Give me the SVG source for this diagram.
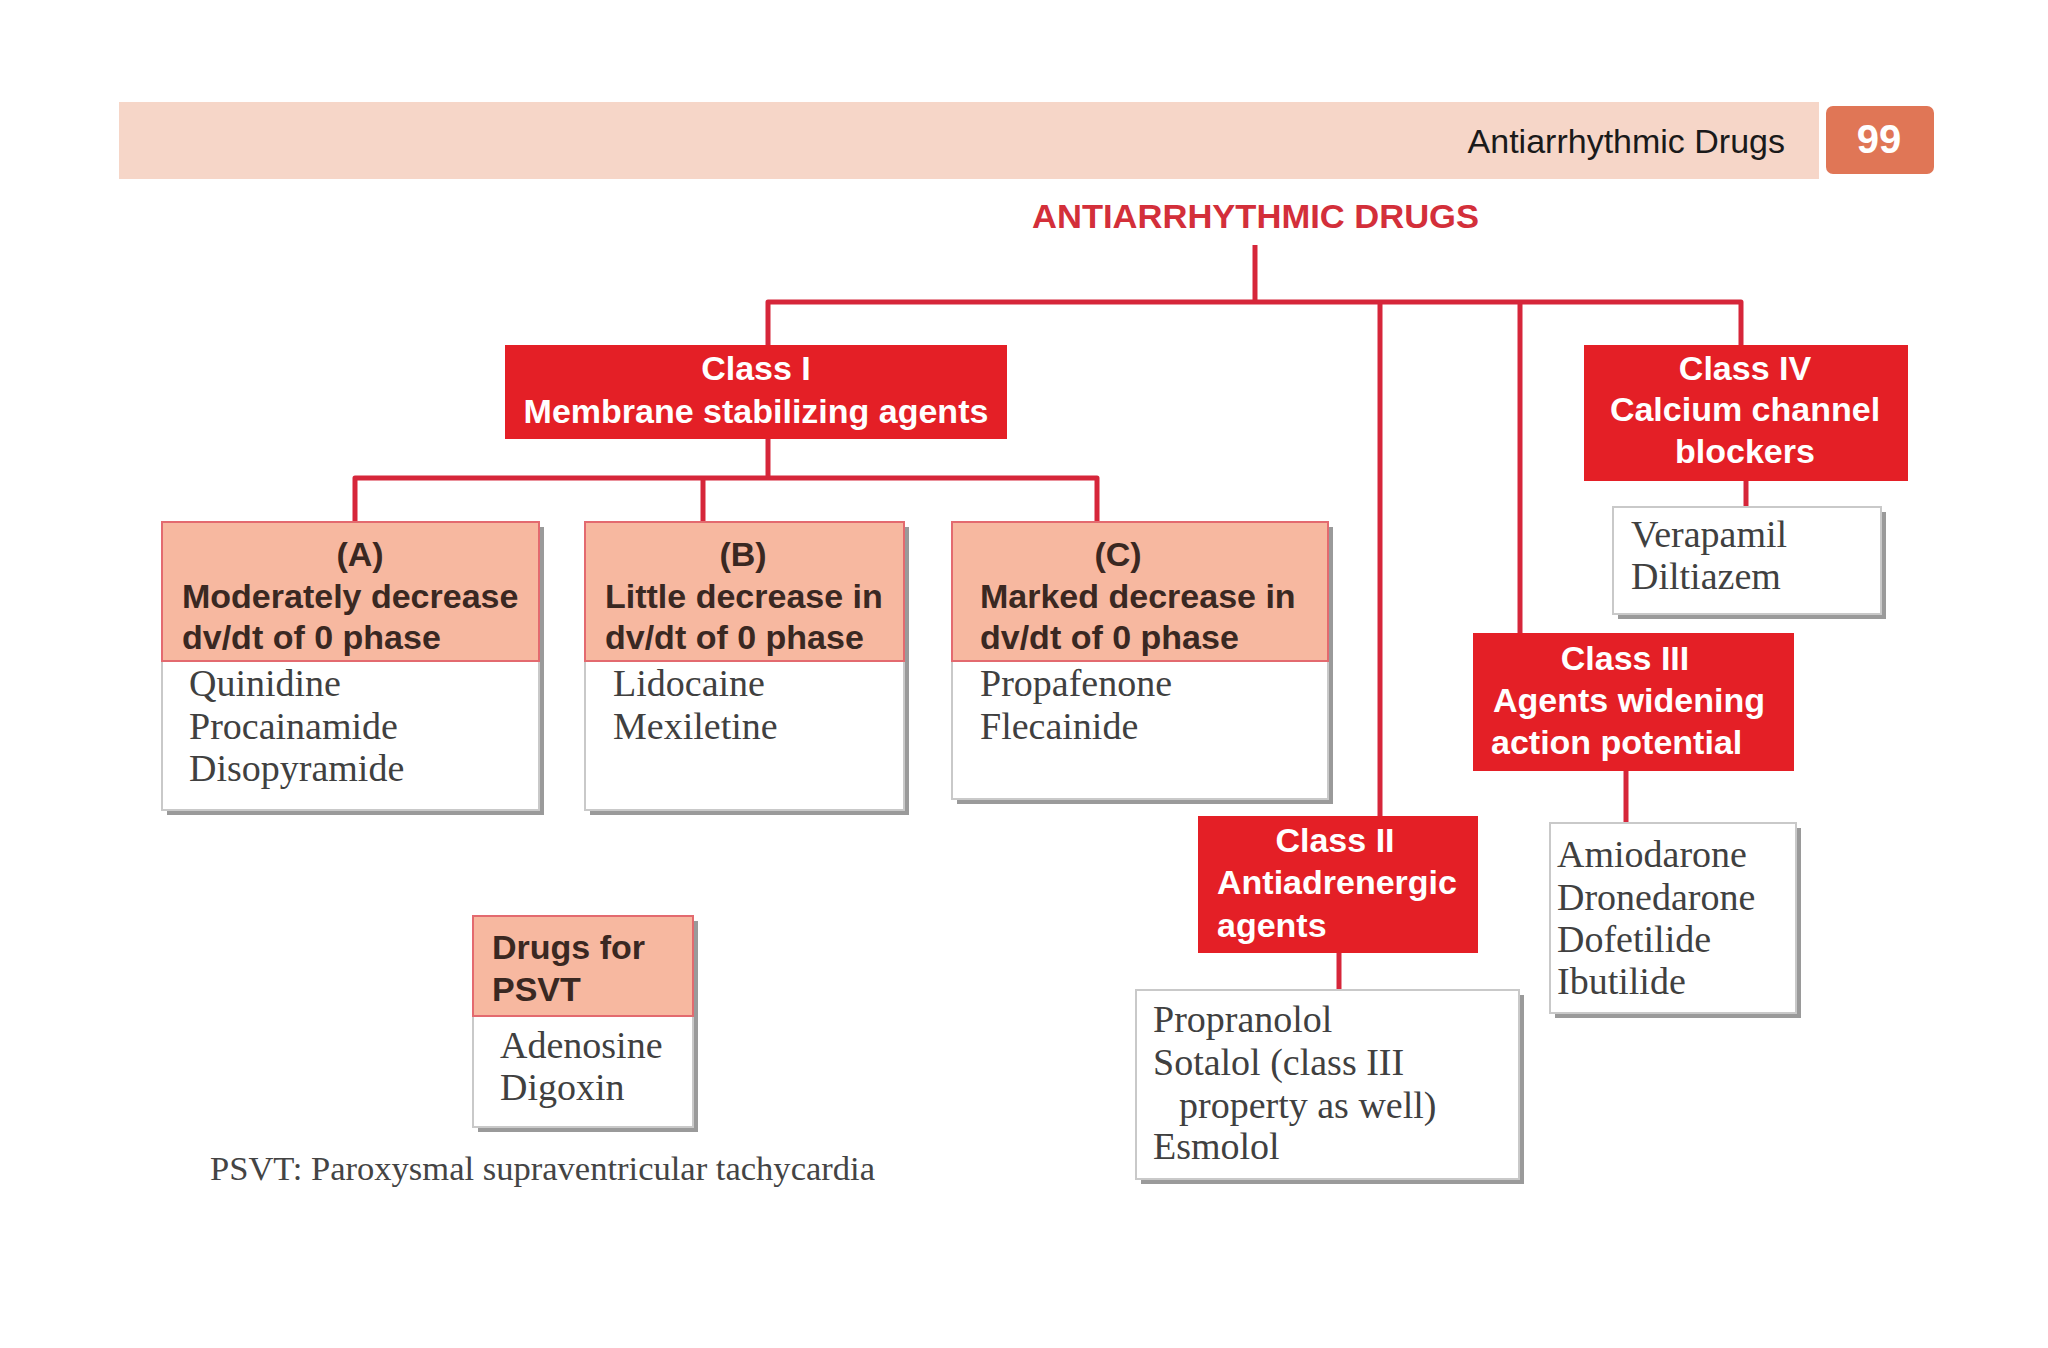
<svg xmlns="http://www.w3.org/2000/svg" width="2048" height="1348" viewBox="0 0 2048 1348">
<style>
.bg{fill:#ffffff}
.band{fill:#f6d6c8}
.pg{fill:#e07656}
.red{fill:#e41f26}
.pink{fill:#f7b8a0;stroke:#e36a6f;stroke-width:2}
.white{fill:#ffffff;stroke:#c9c9c9;stroke-width:2}
.shadow{fill:#9a9a9a}
.conn{fill:none;stroke:#d6263a;stroke-width:5;stroke-linejoin:round;stroke-linecap:butt}
.hw{font-family:"Liberation Sans",Arial,sans-serif;font-weight:bold;font-size:34px;fill:#ffffff}
.hd{font-family:"Liberation Sans",Arial,sans-serif;font-weight:bold;font-size:34px;fill:#3a2822}
.drug{font-family:"Liberation Serif","Times New Roman",serif;font-size:38px;fill:#404040}
.title{font-family:"Liberation Sans",Arial,sans-serif;font-weight:bold;font-size:34px;fill:#d32f3a}
.mid{text-anchor:middle}
</style>
<rect class="bg" x="0" y="0" width="2048" height="1348"/>

<g id="header">
<rect class="band" x="119" y="102" width="1700" height="77"/>
<rect x="1820" y="101" width="120" height="79" rx="8" fill="#ffffff"/>
<rect class="pg" x="1826" y="106" width="108" height="68" rx="7"/>
<text x="1785" y="153" text-anchor="end" font-family="'Liberation Sans',Arial,sans-serif" font-size="34" fill="#1a1a1a">Antiarrhythmic Drugs</text>
<text x="1879" y="153" text-anchor="middle" font-family="'Liberation Sans',Arial,sans-serif" font-weight="bold" font-size="40" fill="#ffffff">99</text>
</g>

<g id="connectors">
<path class="conn" d="M1255 245 V302"/>
<path class="conn" d="M768 345 V302 H1741 V345"/>
<path class="conn" d="M1380 302 V816"/>
<path class="conn" d="M1520 302 V634"/>
<path class="conn" d="M1746 481 V507"/>
<path class="conn" d="M1626 771 V823"/>
<path class="conn" d="M1339 953 V990"/>
<path class="conn" d="M768 439 V478"/>
<path class="conn" d="M355 522 V478 H1097 V522"/>
<path class="conn" d="M703 478 V522"/>
</g>

<g id="title">
<text class="title" x="1032" y="228" textLength="447" lengthAdjust="spacingAndGlyphs">ANTIARRHYTHMIC DRUGS</text>
</g>

<g id="class1">
<rect class="red" x="505" y="345" width="502" height="94"/>
<text class="hw mid" x="756" y="380">Class I</text>
<text class="hw mid" x="756" y="423">Membrane stabilizing agents</text>
</g>

<g id="class1a">
<rect class="shadow" x="167" y="527" width="377" height="288"/>
<rect class="white" x="162" y="522" width="377" height="288"/>
<rect class="pink" x="162" y="522" width="377" height="139"/>
<text class="hd mid" x="360" y="566">(A)</text>
<text class="hd" x="182" y="608">Moderately decrease</text>
<text class="hd" x="182" y="649">dv/dt of 0 phase</text>
<text class="drug" x="189" y="696">Quinidine</text>
<text class="drug" x="189" y="739">Procainamide</text>
<text class="drug" x="189" y="781">Disopyramide</text>
</g>

<g id="class1b">
<rect class="shadow" x="590" y="527" width="319" height="288"/>
<rect class="white" x="585" y="522" width="319" height="288"/>
<rect class="pink" x="585" y="522" width="319" height="139"/>
<text class="hd mid" x="743" y="566">(B)</text>
<text class="hd" x="605" y="608">Little decrease in</text>
<text class="hd" x="605" y="649">dv/dt of 0 phase</text>
<text class="drug" x="613" y="696">Lidocaine</text>
<text class="drug" x="613" y="739">Mexiletine</text>
</g>

<g id="class1c">
<rect class="shadow" x="957" y="527" width="376" height="277"/>
<rect class="white" x="952" y="522" width="376" height="277"/>
<rect class="pink" x="952" y="522" width="376" height="139"/>
<text class="hd mid" x="1118" y="566">(C)</text>
<text class="hd" x="980" y="608">Marked decrease in</text>
<text class="hd" x="980" y="649">dv/dt of 0 phase</text>
<text class="drug" x="980" y="696">Propafenone</text>
<text class="drug" x="980" y="739">Flecainide</text>
</g>

<g id="class4">
<rect class="red" x="1584" y="345" width="324" height="136"/>
<text class="hw mid" x="1745" y="380">Class IV</text>
<text class="hw mid" x="1745" y="421">Calcium channel</text>
<text class="hw mid" x="1745" y="463">blockers</text>
</g>

<g id="class4drugs">
<rect class="shadow" x="1618" y="512" width="268" height="107"/>
<rect class="white" x="1613" y="507" width="268" height="107"/>
<text class="drug" x="1631" y="547">Verapamil</text>
<text class="drug" x="1631" y="589">Diltiazem</text>
</g>

<g id="class3">
<rect class="red" x="1473" y="633" width="321" height="138"/>
<text class="hw mid" x="1625" y="670">Class III</text>
<text class="hw" x="1493" y="712">Agents widening</text>
<text class="hw" x="1491" y="754">action potential</text>
</g>

<g id="class3drugs">
<rect class="shadow" x="1555" y="828" width="246" height="190"/>
<rect class="white" x="1550" y="823" width="246" height="190"/>
<text class="drug" x="1557" y="867">Amiodarone</text>
<text class="drug" x="1557" y="910">Dronedarone</text>
<text class="drug" x="1557" y="952">Dofetilide</text>
<text class="drug" x="1557" y="994">Ibutilide</text>
</g>

<g id="class2">
<rect class="red" x="1198" y="816" width="280" height="137"/>
<text class="hw mid" x="1335" y="852">Class II</text>
<text class="hw" x="1217" y="894">Antiadrenergic</text>
<text class="hw" x="1217" y="937">agents</text>
</g>

<g id="class2drugs">
<rect class="shadow" x="1141" y="995" width="383" height="189"/>
<rect class="white" x="1136" y="990" width="383" height="189"/>
<text class="drug" x="1153" y="1032">Propranolol</text>
<text class="drug" x="1153" y="1075">Sotalol (class III</text>
<text class="drug" x="1179" y="1118">property as well)</text>
<text class="drug" x="1153" y="1159">Esmolol</text>
</g>

<g id="psvt">
<rect class="shadow" x="478" y="921" width="220" height="211"/>
<rect class="white" x="473" y="916" width="220" height="211"/>
<rect class="pink" x="473" y="916" width="220" height="100"/>
<text class="hd" x="492" y="959">Drugs for</text>
<text class="hd" x="492" y="1001">PSVT</text>
<text class="drug" x="500" y="1058">Adenosine</text>
<text class="drug" x="500" y="1100">Digoxin</text>
</g>

<g id="footnote">
<text x="210" y="1180" font-family="'Liberation Serif','Times New Roman',serif" font-size="34" fill="#444444" textLength="665" lengthAdjust="spacingAndGlyphs">PSVT: Paroxysmal supraventricular tachycardia</text>
</g>
</svg>
